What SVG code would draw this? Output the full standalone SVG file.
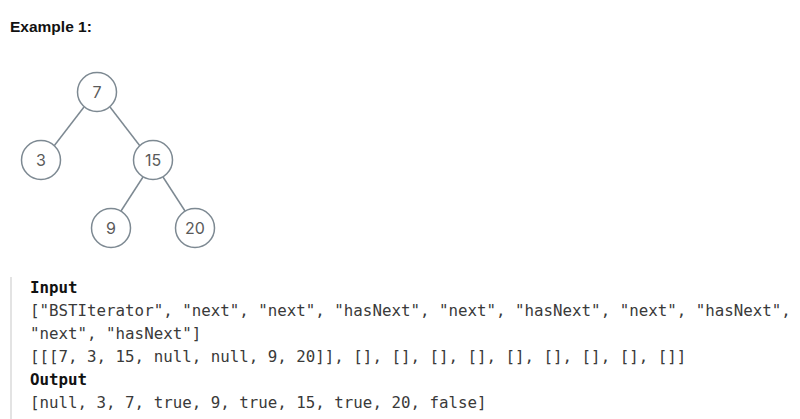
<svg xmlns="http://www.w3.org/2000/svg" width="800" height="419" viewBox="0 0 800 419">
<style>
.node circle{fill:#fff;stroke:#7d8992;stroke-width:1.5}
.node text{font-family:Inter,"Noto Sans",sans-serif;font-size:16px;fill:#5a5a5a;text-anchor:middle}
.edge{stroke:#7d8992;stroke-width:1.5}
.mono{font-family:"DejaVu Sans Mono","Liberation Mono",monospace;font-size:15.8px;fill:#3a3a3a}
.monob{font-family:"DejaVu Sans Mono","Liberation Mono",monospace;font-size:15.8px;font-weight:bold;fill:#111}
</style>
<rect width="800" height="419" fill="#fff"/>
<text x="10" y="32" font-family="'Liberation Sans',Arial,sans-serif" font-size="15.5" font-weight="bold" fill="#111">Example 1:</text>
<g id="connectors">
<line class="edge" x1="84" y1="107" x2="54" y2="146"/>
<line class="edge" x1="110" y1="107" x2="140" y2="146"/>
<line class="edge" x1="143" y1="177" x2="121" y2="211"/>
<line class="edge" x1="163" y1="177" x2="185" y2="211"/>
</g>
<g id="n7" class="node"><circle cx="97" cy="92" r="19.5"/><text x="97" y="98">7</text></g>
<g id="n3" class="node"><circle cx="41" cy="160" r="19.5"/><text x="41" y="166">3</text></g>
<g id="n15" class="node"><circle cx="153" cy="160" r="19.5"/><text x="153" y="166">15</text></g>
<g id="n9" class="node"><circle cx="111" cy="228" r="19.5"/><text x="111" y="234">9</text></g>
<g id="n20" class="node"><circle cx="195" cy="228" r="19.5"/><text x="195" y="234">20</text></g>
<rect x="10" y="277" width="2" height="142" fill="#e3e3e3"/>
<text class="monob" x="30" y="293">Input</text>
<text class="mono" x="30" y="316">["BSTIterator", "next", "next", "hasNext", "next", "hasNext", "next", "hasNext",</text>
<text class="mono" x="30" y="339">"next", "hasNext"]</text>
<text class="mono" x="30" y="362">[[[7, 3, 15, null, null, 9, 20]], [], [], [], [], [], [], [], [], []]</text>
<text class="monob" x="30" y="385">Output</text>
<text class="mono" x="30" y="408">[null, 3, 7, true, 9, true, 15, true, 20, false]</text>
</svg>
